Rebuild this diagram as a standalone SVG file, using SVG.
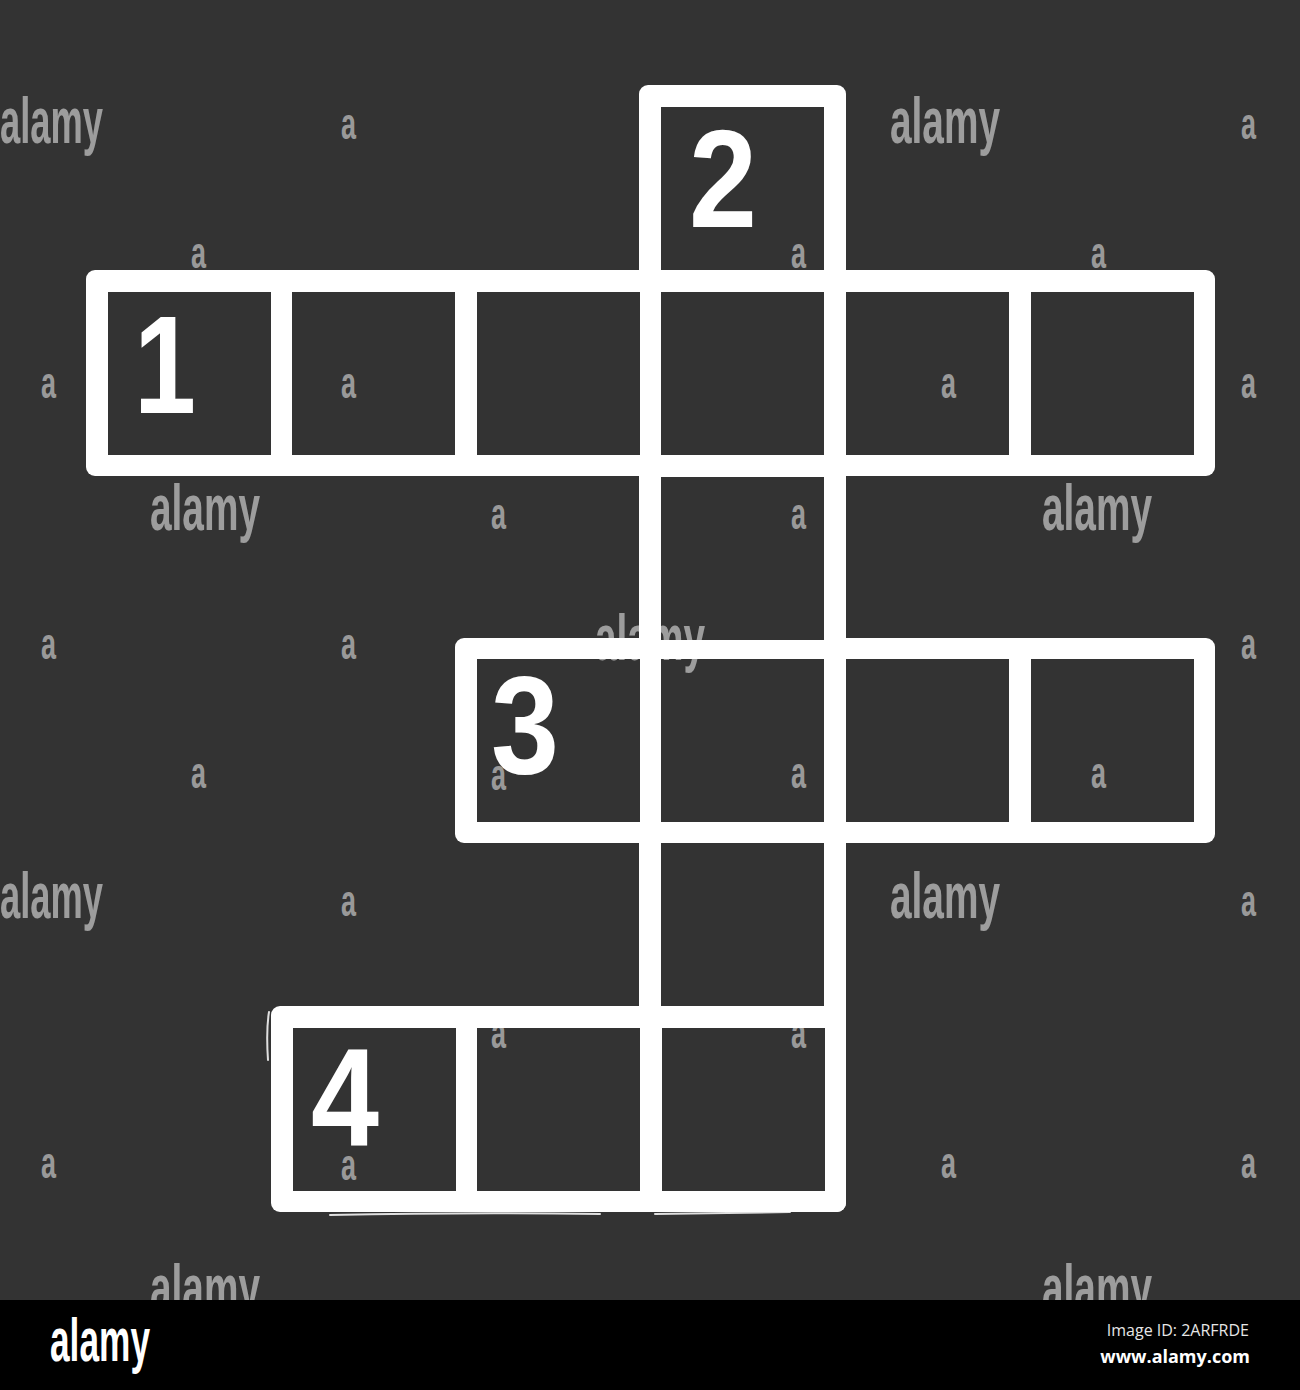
<svg xmlns="http://www.w3.org/2000/svg" width="1300" height="1390" viewBox="0 0 1300 1390">
  <style>
    .frame { fill: #ffffff; }
    .cell { fill: #333333; }
    .num { fill: #ffffff; font-family: "Liberation Sans", Arial, sans-serif; font-weight: bold; font-size: 140px; text-anchor: middle; }
    .wm { fill: #ffffff; fill-opacity: 0.52; font-family: "Liberation Sans Narrow", "Liberation Sans", Arial, sans-serif; font-weight: bold; }
    .wa { font-size: 44px; }
    .ww { font-size: 64px; }
    .smear { fill: none; stroke: #ffffff; stroke-width: 2; stroke-opacity: 0.85; stroke-linecap: round; }
  </style>
  <rect x="0" y="0" width="1300" height="1390" fill="#333333"/>

  <g id="frames">
    <rect class="frame" x="86" y="270" width="1129" height="206" rx="9"/>
    <rect class="frame" x="639" y="85" width="207" height="1127" rx="9"/>
    <rect class="frame" x="455" y="638" width="760" height="205" rx="9"/>
    <rect class="frame" x="271" y="1006" width="575" height="206" rx="9"/>
    <path class="smear" d="M330 1215 Q470 1212 600 1214 M655 1214 Q720 1213 790 1212 M269 1012 Q266 1030 268 1060"/>
  </g>

  <g id="word-1">
    <rect class="cell" x="108" y="292" width="163" height="163"/>
    <rect class="cell" x="292" y="292" width="163" height="163"/>
    <rect class="cell" x="477" y="292" width="163" height="163"/>
    <rect class="cell" x="661" y="292" width="163" height="163"/>
    <rect class="cell" x="846" y="292" width="163" height="163"/>
    <rect class="cell" x="1031" y="292" width="163" height="163"/>
    <text class="num" x="165" y="413" textLength="62" lengthAdjust="spacingAndGlyphs">1</text>
  </g>

  <g id="word-2">
    <rect class="cell" x="661" y="107" width="163" height="163"/>
    <rect class="cell" x="661" y="477" width="163" height="163"/>
    <rect class="cell" x="661" y="843" width="163" height="163"/>
    <text class="num" x="723" y="227" textLength="68" lengthAdjust="spacingAndGlyphs">2</text>
  </g>

  <g id="word-3">
    <rect class="cell" x="477" y="659" width="163" height="163"/>
    <rect class="cell" x="661" y="659" width="163" height="163"/>
    <rect class="cell" x="846" y="659" width="163" height="163"/>
    <rect class="cell" x="1031" y="659" width="163" height="163"/>
    <text class="num" x="525" y="773" textLength="68" lengthAdjust="spacingAndGlyphs">3</text>
  </g>

  <g id="word-4">
    <rect class="cell" x="293" y="1028" width="163" height="163"/>
    <rect class="cell" x="477" y="1028" width="163" height="163"/>
    <rect class="cell" x="662" y="1028" width="163" height="163"/>
    <text class="num" x="345" y="1146" textLength="68" lengthAdjust="spacingAndGlyphs">4</text>
  </g>

  <g id="connectors"/>

  <g id="watermark">
    <text class="wm ww" x="0" y="143" textLength="103" lengthAdjust="spacingAndGlyphs">alamy</text>
    <text class="wm wa" x="341" y="139" textLength="15" lengthAdjust="spacingAndGlyphs">a</text>
    <text class="wm ww" x="890" y="143" textLength="110" lengthAdjust="spacingAndGlyphs">alamy</text>
    <text class="wm wa" x="1241" y="139" textLength="15" lengthAdjust="spacingAndGlyphs">a</text>

    <text class="wm wa" x="191" y="268" textLength="15" lengthAdjust="spacingAndGlyphs">a</text>
    <text class="wm wa" x="791" y="268" textLength="15" lengthAdjust="spacingAndGlyphs">a</text>
    <text class="wm wa" x="1091" y="268" textLength="15" lengthAdjust="spacingAndGlyphs">a</text>

    <text class="wm wa" x="41" y="398" textLength="15" lengthAdjust="spacingAndGlyphs">a</text>
    <text class="wm wa" x="341" y="398" textLength="15" lengthAdjust="spacingAndGlyphs">a</text>
    <text class="wm wa" x="941" y="398" textLength="15" lengthAdjust="spacingAndGlyphs">a</text>
    <text class="wm wa" x="1241" y="398" textLength="15" lengthAdjust="spacingAndGlyphs">a</text>

    <text class="wm ww" x="150" y="530" textLength="110" lengthAdjust="spacingAndGlyphs">alamy</text>
    <text class="wm wa" x="491" y="529" textLength="15" lengthAdjust="spacingAndGlyphs">a</text>
    <text class="wm wa" x="791" y="529" textLength="15" lengthAdjust="spacingAndGlyphs">a</text>
    <text class="wm ww" x="1042" y="530" textLength="110" lengthAdjust="spacingAndGlyphs">alamy</text>

    <text class="wm wa" x="41" y="659" textLength="15" lengthAdjust="spacingAndGlyphs">a</text>
    <text class="wm wa" x="341" y="659" textLength="15" lengthAdjust="spacingAndGlyphs">a</text>
    <text class="wm ww" x="595" y="660" textLength="110" lengthAdjust="spacingAndGlyphs">alamy</text>
    <text class="wm wa" x="1241" y="659" textLength="15" lengthAdjust="spacingAndGlyphs">a</text>

    <text class="wm wa" x="191" y="788" textLength="15" lengthAdjust="spacingAndGlyphs">a</text>
    <text class="wm wa" x="491" y="790" textLength="15" lengthAdjust="spacingAndGlyphs">a</text>
    <text class="wm wa" x="791" y="788" textLength="15" lengthAdjust="spacingAndGlyphs">a</text>
    <text class="wm wa" x="1091" y="788" textLength="15" lengthAdjust="spacingAndGlyphs">a</text>

    <text class="wm ww" x="0" y="918" textLength="103" lengthAdjust="spacingAndGlyphs">alamy</text>
    <text class="wm wa" x="341" y="916" textLength="15" lengthAdjust="spacingAndGlyphs">a</text>
    <text class="wm ww" x="890" y="918" textLength="110" lengthAdjust="spacingAndGlyphs">alamy</text>
    <text class="wm wa" x="1241" y="916" textLength="15" lengthAdjust="spacingAndGlyphs">a</text>

    <text class="wm wa" x="491" y="1048" textLength="15" lengthAdjust="spacingAndGlyphs">a</text>
    <text class="wm wa" x="791" y="1048" textLength="15" lengthAdjust="spacingAndGlyphs">a</text>

    <text class="wm wa" x="41" y="1178" textLength="15" lengthAdjust="spacingAndGlyphs">a</text>
    <text class="wm wa" x="341" y="1180" textLength="15" lengthAdjust="spacingAndGlyphs">a</text>
    <text class="wm wa" x="941" y="1178" textLength="15" lengthAdjust="spacingAndGlyphs">a</text>
    <text class="wm wa" x="1241" y="1178" textLength="15" lengthAdjust="spacingAndGlyphs">a</text>

    <text class="wm ww" x="150" y="1310" textLength="110" lengthAdjust="spacingAndGlyphs">alamy</text>
    <text class="wm ww" x="1042" y="1310" textLength="110" lengthAdjust="spacingAndGlyphs">alamy</text>
  </g>

  <g id="footer">
    <rect x="0" y="1300" width="1300" height="90" fill="#000000"/>
    <text x="50" y="1361" fill="#ffffff" font-family="Liberation Sans Narrow, Liberation Sans, Arial, sans-serif" font-weight="bold" font-size="62" textLength="100" lengthAdjust="spacingAndGlyphs">alamy</text>
    <text x="1249" y="1336" fill="#e6e6e6" font-family="Open Sans, Noto Sans, sans-serif" font-size="16" text-anchor="end">Image ID: 2ARFRDE</text>
    <text x="1250" y="1363" fill="#ffffff" font-family="Open Sans, Noto Sans, sans-serif" font-weight="bold" font-size="18" text-anchor="end">www.alamy.com</text>
  </g>
</svg>
